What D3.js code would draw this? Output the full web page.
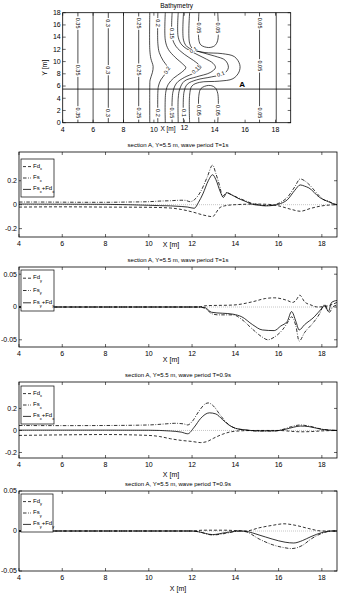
<!DOCTYPE html>
<html><head><meta charset="utf-8">
<script src="https://cdnjs.cloudflare.com/ajax/libs/d3/7.8.5/d3.min.js"></script>
<style>
body{margin:0;background:#fff}
text{font-family:'Liberation Sans Narrow','Liberation Sans',Arial,sans-serif;fill:#000}
</style></head><body>
<svg id="c" width="342" height="598"></svg>
<script>
// ---------- data ----------
const xTicks = [4,6,8,10,12,14,16,18];
const bathyYTicks = [0,2,4,6,8,10,12,14,16,18];
const ticksX = [-0.2,0,0.2];
const ticksY = [-0.05,0,0.05];

// Bathymetry contour lines [X,Y] in metres
const contourStraight = [5,6,7,8,9,16.95,18.05];
const contourCurved = [
 [[9.73,18],[9.73,12],[9.8,10.5],[9.95,9.2],[9.9,8.2],[9.75,7],[9.73,6],[9.73,0]],
 [[10.26,18],[10.26,13],[10.35,11.5],[10.6,10.2],[10.85,9.3],[10.9,8.8],[10.75,8],[10.45,7],[10.3,6],[10.26,5],[10.26,0]],
 [[10.75,18],[10.75,13.5],[10.95,12],[11.4,10.7],[11.9,9.6],[12.1,9],[11.8,8.2],[11.3,7.3],[10.95,6.3],[10.78,5],[10.75,0]],
 [[11.2,18],[11.2,14],[11.45,12.5],[12.0,11.2],[12.6,10.2],[13.0,9.4],[13.1,9],[12.7,8.2],[12.0,7.4],[11.5,6.5],[11.25,5],[11.2,0]],
 [[11.6,18],[11.6,14],[11.85,12.7],[12.5,11.6],[13.3,10.6],[13.9,9.7],[14.05,9],[13.7,8.2],[12.8,7.5],[12.0,6.8],[11.7,5.5],[11.6,4],[11.6,0]],
 [[11.95,18],[11.95,13.5],[12.2,12.4],[13.0,11.6],[14.0,10.9],[14.7,10.2],[14.9,9],[14.6,8.0],[13.8,7.5],[12.8,7.0],[12.2,6.3],[11.98,5],[11.95,0]],
 [[12.35,18],[12.35,13],[12.6,12],[13.3,11.5],[14.5,11.3],[15.3,10.8],[15.65,9.5],[15.6,8.3],[15.2,7.2],[14.3,6.8],[13.0,6.6],[12.5,6],[12.35,4.5],[12.35,0]],
 [[12.96,18],[12.96,13.5],[13.1,12.7],[13.6,12.3],[14.0,12.6],[14.2,13.5],[14.2,18]],
 [[12.96,0],[12.96,4.5],[13.1,5.6],[13.6,6.1],[14.0,5.8],[14.2,4.8],[14.2,0]]
];
const contourLabels = [
 ["0.35",5,16.3,90],["0.35",5,8.6,90],["0.35",5,1.6,90],
 ["0.3",7,16.3,90],["0.3",7,8.6,90],["0.3",7,1.6,90],
 ["0.25",9,16.3,90],["0.25",9,8.6,90],["0.25",9,1.6,90],
 ["0.2",10.26,16.3,90],["0.2",10.26,1.6,90],["0.2",10.85,8.6,-60],
 ["0.15",11.2,14.6,90],["0.15",11.2,1.6,90],["0.15",12.8,8.8,-45],
 ["0.1",11.95,1.6,90],["0.1",12.6,11.9,-30],["0.1",14.4,8.0,-20],
 ["0.05",12.96,15.5,90],["0.05",14.2,15.5,90],["0.05",12.96,2.0,90],["0.05",14.2,2.0,90],
 ["0.05",16.95,16.3,90],["0.05",16.95,9.3,90],["0.05",16.95,1.6,90]
];
const sectionY = 5.5;

// Panel: section A, T=1s, x-forces
const fx1_Fd = [[4,-0.02],[6,-0.018],[8,-0.02],[10,-0.022],[11,-0.028],[11.5,-0.04],[12,-0.06],[12.6,-0.09],[12.95,-0.1],[13.1,-0.07],[13.25,-0.03],[13.5,-0.01],[14,0.0],[15,0.005],[15.5,0.003],[16,-0.01],[16.6,-0.04],[17,-0.055],[17.5,-0.03],[18,-0.01],[18.7,0]];
const fx1_Fs = [[4,0.022],[5,0.022],[6,0.021],[7,0.02],[8,0.02],[9,0.022],[10,0.025],[10.5,0.03],[11,0.033],[11.5,0.037],[11.7,0.036],[11.9,0.025],[12.1,0.04],[12.4,0.11],[12.7,0.23],[12.95,0.33],[13.1,0.26],[13.3,0.14],[13.4,0.07],[13.6,0.1],[13.8,0.085],[14.1,0.06],[14.5,0.03],[14.75,0.012],[15.1,0.0],[15.4,-0.008],[15.7,-0.004],[16.1,0.02],[16.4,0.06],[16.75,0.15],[17.0,0.215],[17.2,0.2],[17.4,0.17],[17.9,0.07],[18.1,0.04],[18.3,0.03],[18.5,0.01],[18.7,0.0]];
const fx1_Sum = [[4,0.005],[6,0.004],[8,0.003],[9,0.0],[10,-0.005],[10.5,-0.008],[11,-0.01],[11.5,-0.015],[11.8,-0.02],[12.1,-0.03],[12.3,0.02],[12.5,0.09],[12.75,0.2],[12.95,0.25],[13.1,0.21],[13.3,0.11],[13.45,0.06],[13.6,0.1],[13.8,0.085],[14.1,0.055],[14.5,0.025],[14.75,0.005],[15.1,-0.005],[15.4,-0.01],[15.8,-0.005],[16.1,0.01],[16.4,0.04],[16.75,0.12],[17.0,0.165],[17.2,0.155],[17.4,0.14],[17.9,0.06],[18.1,0.04],[18.3,0.025],[18.5,0.01],[18.7,0]];

// Panel: section A, T=1s, y-forces
const fy1_Fd = [[4,0],[12.3,0],[12.65,0.002],[13.9,0.003],[14.8,0.008],[15.4,0.013],[15.8,0.014],[16.4,0.01],[16.65,0.007],[16.8,0.01],[16.98,0.018],[17.2,0.008],[17.5,0.003],[17.8,0.0],[18.3,0.002],[18.7,0.007]];
const fy1_Fs = [[4,0],[12.3,0],[12.6,-0.002],[12.9,-0.01],[13.2,-0.012],[13.9,-0.012],[14.3,-0.019],[14.8,-0.034],[15.25,-0.046],[15.5,-0.05],[15.8,-0.046],[16.2,-0.034],[16.45,-0.022],[16.6,-0.015],[16.8,-0.029],[16.95,-0.052],[17.2,-0.039],[17.6,-0.024],[17.9,-0.01],[18.1,0.003],[18.25,-0.005],[18.35,-0.008],[18.5,0],[18.7,0.003]];
const fy1_Sum = [[4,0],[12.3,0],[12.6,-0.001],[12.9,-0.008],[13.9,-0.011],[14.3,-0.015],[14.8,-0.027],[15.25,-0.035],[15.8,-0.036],[16.1,-0.029],[16.4,-0.022],[16.6,-0.007],[16.8,-0.022],[16.95,-0.035],[17.2,-0.027],[17.65,-0.015],[18.0,-0.002],[18.15,0.003],[18.3,-0.007],[18.45,0.007],[18.7,0.01]];

// Panel: section A, T=0.9s, x-forces
const fx2_Fd = [[4,-0.045],[6,-0.04],[8,-0.037],[10,-0.045],[10.5,-0.055],[11,-0.075],[11.5,-0.09],[12,-0.1],[12.4,-0.11],[12.7,-0.1],[13.0,-0.07],[13.4,-0.035],[13.8,-0.012],[14.3,-0.003],[15,0],[16,0],[16.6,-0.008],[17,-0.012],[17.5,-0.01],[18,-0.004],[18.7,0]];
const fx2_Fs = [[4,0.045],[6,0.044],[8,0.045],[10,0.05],[10.8,0.06],[11.2,0.065],[11.6,0.06],[11.8,0.05],[12.0,0.08],[12.3,0.17],[12.6,0.24],[12.75,0.25],[13.0,0.22],[13.3,0.14],[13.6,0.07],[14,0.02],[14.5,0.003],[15,-0.005],[15.8,-0.005],[16.2,0.01],[16.6,0.035],[17.0,0.05],[17.4,0.04],[18,0.012],[18.7,0]];
const fx2_Sum = [[4,0.003],[8,0.003],[10,0.002],[11,-0.005],[11.5,-0.015],[11.8,-0.03],[12.1,0.03],[12.4,0.11],[12.8,0.16],[13.1,0.15],[13.4,0.1],[13.7,0.05],[14,0.02],[14.5,0.005],[15,-0.004],[15.8,-0.004],[16.3,0.01],[16.7,0.03],[17.0,0.04],[17.4,0.035],[18,0.01],[18.7,0]];

// Panel: section A, T=0.9s, y-forces
const fy2_Fd = [[4,0],[12,0],[12.5,0.001],[13.5,0.001],[14.5,0],[15.1,0.004],[15.7,0.007],[16.25,0.009],[16.8,0.007],[17.4,0.003],[18.0,0.0],[18.7,0]];
const fy2_Fs = [[4,0],[12,0],[12.3,-0.001],[12.95,-0.005],[13.55,-0.003],[14.2,0],[14.5,-0.001],[15.1,-0.01],[15.7,-0.017],[16.3,-0.021],[16.6,-0.022],[17.1,-0.018],[17.5,-0.01],[18.0,-0.003],[18.5,0],[18.7,0]];
const fy2_Sum = [[4,0],[12,0],[12.3,-0.001],[12.95,-0.0045],[13.55,-0.002],[14.2,0],[14.5,-0.0005],[15.1,-0.005],[15.7,-0.01],[16.3,-0.014],[16.7,-0.015],[17.1,-0.012],[17.5,-0.007],[18.0,-0.002],[18.5,0],[18.7,0]];

const titleT1 = "section A, Y=5.5 m, wave period T=1s";
const titleT09 = "section A, Y=5.5 m, wave period T=0.9s";

// ---------- drawing ----------
const svg = d3.select("#c");
const FS = 7;
const DASH = "3,2", DASHDOT = "3.5,1.5,0.8,1.5";

function frameTicks(g, x, y, xt, yt, fmtY, L, R, T, B){
  const tl = 3;
  g.append("rect").attr("x",L).attr("y",T).attr("width",R-L).attr("height",B-T)
    .attr("fill","none").attr("stroke","#000").attr("stroke-width",0.8);
  xt.forEach(v=>{
    const px = x(v);
    g.append("line").attr("x1",px).attr("x2",px).attr("y1",B).attr("y2",B-tl).attr("stroke","#000").attr("stroke-width",0.6);
    g.append("line").attr("x1",px).attr("x2",px).attr("y1",T).attr("y2",T+tl).attr("stroke","#000").attr("stroke-width",0.6);
  });
  yt.forEach(v=>{
    const py = y(v);
    g.append("line").attr("x1",L).attr("x2",L+tl).attr("y1",py).attr("y2",py).attr("stroke","#000").attr("stroke-width",0.6);
    g.append("line").attr("x1",R).attr("x2",R-tl).attr("y1",py).attr("y2",py).attr("stroke","#000").attr("stroke-width",0.6);
    g.append("text").attr("x",L-2).attr("y",py+2.3).attr("text-anchor","end").attr("font-size",FS).text(fmtY(v));
  });
}

function forcePanel(o){
  const g = svg.append("g");
  const x = d3.scaleLinear().domain([4,18.7]).range([o.L,o.R]);
  const y = d3.scaleLinear().domain(o.yd).range([o.B,o.T]);
  const xt = xTicks;
  g.append("line").attr("x1",o.L).attr("x2",o.R).attr("y1",y(0)).attr("y2",y(0))
    .attr("stroke","#888").attr("stroke-width",0.6).attr("stroke-dasharray","0.8,1.2");
  const line = d3.line().x(d=>x(d[0])).y(d=>y(d[1])).curve(d3.curveMonotoneX);
  [[o.fd,DASH],[o.fs,DASHDOT],[o.sum,null]].forEach(([d,da])=>{
    g.append("path").attr("d",line(d)).attr("fill","none").attr("stroke","#000")
     .attr("stroke-width",0.8).attr("stroke-dasharray",da);
  });
  frameTicks(g,x,y,xt,o.yt,o.fmt,o.L,o.R,o.T,o.B);
  xt.forEach(v=>{
    g.append("text").attr("x",x(v)).attr("y",o.B+9).attr("text-anchor","middle").attr("font-size",FS).text(v);
  });
  g.append("text").attr("x",o.xlx).attr("y",o.xly).attr("text-anchor","middle").attr("font-size",FS).text("X [m]");
  g.append("text").attr("x",(o.L+o.R)/2).attr("y",o.ty).attr("text-anchor","middle").attr("font-size",6).text(o.title);
  // legend
  const lg = o.lg, s = o.sub;
  g.append("rect").attr("x",lg[0]).attr("y",lg[1]).attr("width",lg[2]-lg[0]).attr("height",lg[3]-lg[1])
    .attr("fill","#fff").attr("stroke","#000").attr("stroke-width",0.7);
  const h = (lg[3]-lg[1]);
  const rows = [["Fd",null,DASH],["Fs",null,DASHDOT],["Fs","Fd",null]];
  rows.forEach((r,i)=>{
    const cy = lg[1] + h*(0.2+0.3*i);
    g.append("line").attr("x1",lg[0]+2).attr("x2",lg[0]+10).attr("y1",cy).attr("y2",cy)
      .attr("stroke","#000").attr("stroke-width",0.8).attr("stroke-dasharray",r[2]);
    const t = g.append("text").attr("x",lg[0]+12).attr("y",cy+1).attr("font-size",6);
    t.append("tspan").text(r[0]);
    t.append("tspan").attr("dy",2.8).attr("font-size",4).text(s);
    if(r[1]){
      t.append("tspan").attr("dy",-2.8).attr("font-size",6).text("+"+r[1]);
      t.append("tspan").attr("dy",2.8).attr("font-size",4).text(s);
    }
  });
}

// Bathymetry
(function(){
  const L=62.7,R=290.7,T=12.7,B=122.7;
  const g = svg.append("g");
  const x = d3.scaleLinear().domain([4,19]).range([L,R]);
  const y = d3.scaleLinear().domain([0,18]).range([B,T]);
  const line = d3.line().x(d=>x(d[0])).y(d=>y(d[1])).curve(d3.curveCatmullRom);
  contourStraight.forEach(v=>{
    g.append("line").attr("x1",x(v)).attr("x2",x(v)).attr("y1",y(0)).attr("y2",y(18)).attr("stroke","#000").attr("stroke-width",0.7);
  });
  contourCurved.forEach(c=>{
    g.append("path").attr("d",line(c)).attr("fill","none").attr("stroke","#000").attr("stroke-width",0.7);
  });
  g.append("line").attr("x1",L).attr("x2",R).attr("y1",y(sectionY)).attr("y2",y(sectionY)).attr("stroke","#000").attr("stroke-width",0.8);
  contourLabels.forEach(([t,cx,cy,a])=>{
    const lg = g.append("g").attr("transform",`translate(${x(cx)},${y(cy)}) rotate(${a})`);
    const w = t.length*3.1+1;
    lg.append("rect").attr("x",-w/2).attr("y",-2.5).attr("width",w).attr("height",5).attr("fill","#fff");
    lg.append("text").attr("x",0).attr("y",2).attr("text-anchor","middle").attr("font-size",5.5).text(t);
  });
  frameTicks(g,x,y,xTicks,bathyYTicks,d=>d,L,R,T,B);
  xTicks.forEach(v=>{
    g.append("text").attr("x",x(v)).attr("y",B+(v===12?7.5:9)).attr("text-anchor","middle").attr("font-size",FS).text(v);
  });
  g.append("text").attr("x",168).attr("y",131).attr("text-anchor","middle").attr("font-size",6.5).text("X [m]");
  g.append("text").attr("transform",`translate(47,${(T+B)/2}) rotate(-90)`).attr("text-anchor","middle").attr("font-size",FS).text("Y [m]");
  g.append("text").attr("x",(L+R)/2).attr("y",8).attr("text-anchor","middle").attr("font-size",6.5).text("Bathymetry");
  g.append("text").attr("x",x(15.8)).attr("y",y(sectionY)-2).attr("text-anchor","middle").attr("font-size",8).attr("font-weight","bold").text("A");
})();

forcePanel({L:19,R:337,T:152,B:237,yd:[-0.27,0.44],yt:ticksX,fmt:d=>d,fd:fx1_Fd,fs:fx1_Fs,sum:fx1_Sum,
  title:titleT1,ty:147,xlx:171,xly:247,lg:[21,159,54,197],sub:"x"});
forcePanel({L:19,R:337,T:267,B:347,yd:[-0.061,0.061],yt:ticksY,fmt:d=>d,fd:fy1_Fd,fs:fy1_Fs,sum:fy1_Sum,
  title:titleT1,ty:262,xlx:171,xly:362,lg:[21,270,54,311],sub:"y"});
forcePanel({L:19,R:337,T:382,B:458,yd:[-0.25,0.44],yt:ticksX,fmt:d=>d,fd:fx2_Fd,fs:fx2_Fs,sum:fx2_Sum,
  title:titleT09,ty:377,xlx:171,xly:477,lg:[21,386,54,424],sub:"x"});
forcePanel({L:19,R:337,T:491,B:571,yd:[-0.05,0.05],yt:ticksY,fmt:d=>d,fd:fy2_Fd,fs:fy2_Fs,sum:fy2_Sum,
  title:titleT09,ty:486,xlx:178,xly:591,lg:[21,494,53,532],sub:"y"});
</script></body></html>
